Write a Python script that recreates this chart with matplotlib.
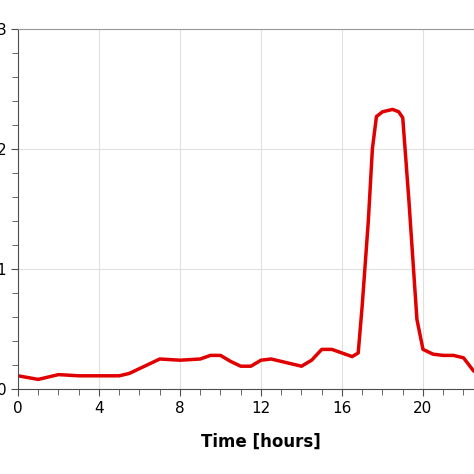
import numpy as np
import matplotlib.pyplot as plt
from matplotlib.ticker import MultipleLocator, FixedLocator

hours = [0, 1, 2, 3, 4, 5, 5.5, 6, 7, 8, 9, 9.5, 10, 10.5, 11, 11.5, 12, 12.5, 13, 14,
         14.5, 15, 15.5, 16, 16.5, 16.8, 17, 17.3, 17.5, 17.7, 18, 18.5, 18.8, 19, 19.3,
         19.7, 20, 20.5, 21, 21.5, 22, 22.5, 23]
values = [0.11, 0.08, 0.12, 0.11, 0.11, 0.11, 0.13, 0.17, 0.25, 0.24, 0.25, 0.28, 0.28,
          0.23, 0.19, 0.19, 0.24, 0.25, 0.23, 0.19, 0.24, 0.33, 0.33, 0.30, 0.27, 0.30,
          0.70, 1.40, 2.00, 2.27, 2.31, 2.33, 2.31, 2.26, 1.58, 0.58, 0.33, 0.29, 0.28,
          0.28, 0.26, 0.15, 0.11]

fig = plt.figure(figsize=(4.74, 4.74), dpi=100)
ax = fig.add_axes([18/474, 85/474, 24*20.25/474, 360/474])
ax.plot(hours, values, color="#e00000", lw=2.5, solid_joinstyle="round")
ax.set_xlim(0, 24)
ax.set_ylim(0, 3)
ax.xaxis.set_major_locator(FixedLocator([0, 4, 8, 12, 16, 20]))
ax.xaxis.set_minor_locator(MultipleLocator(1))
ax.yaxis.set_major_locator(MultipleLocator(1))
ax.yaxis.set_minor_locator(MultipleLocator(0.2))
ax.grid(True, which="major", color="0.88", lw=0.8)
ax.tick_params(which="both", direction="out", colors="0.3", labelcolor="black", labelsize=11)
ax.tick_params(which="major", length=5)
ax.tick_params(which="minor", length=4)
for s in ax.spines.values():
    s.set_color("0.6")
ax.spines["left"].set_color("0.3")
ax.spines["bottom"].set_color("0.3")
ax.set_xlabel("Time [hours]", fontsize=12, fontweight="bold", labelpad=12)
fig.savefig("out.png", dpi=100)
